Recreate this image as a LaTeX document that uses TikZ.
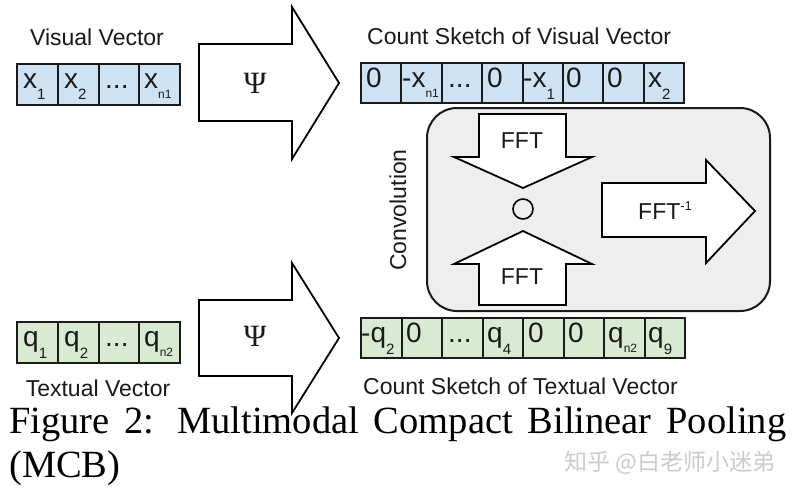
\documentclass[tikz,border=0pt]{standalone}
\usepackage{fontspec}
\setmainfont{Liberation Sans}
\newfontfamily\capfont{Liberation Serif}
\newfontfamily\cjkfont{Noto Sans CJK SC}
\definecolor{vblue}{HTML}{CFE2F3}
\definecolor{tgreen}{HTML}{D9EAD3}
\definecolor{boxgray}{HTML}{EEEEEE}
\definecolor{linec}{HTML}{1A1A1A}
\definecolor{textc}{HTML}{1A1A1A}
\newcommand\lo[1]{\raisebox{-12pt}{\fontsize{15}{15}\selectfont #1}}
\newcommand\loo[1]{\raisebox{-10pt}{\fontsize{12}{12}\selectfont #1}}
\begin{document}
\begin{tikzpicture}[x=1pt,y=-1pt,
  cellv/.style={draw=linec, fill=vblue, line width=2pt},
  cellt/.style={draw=linec, fill=tgreen, line width=2pt},
  blockarrow/.style={draw=black, fill=white, line width=1.8pt, line join=miter},
  lbl/.style={font=\fontsize{23}{23}\selectfont, inner sep=0, text=textc},
  ctxt/.style={font=\fontsize{28}{28}\selectfont, inner sep=0, anchor=base west, text=textc},
  psi/.style={font=\capfont\fontsize{31}{31}\selectfont, inner sep=0, text=textc}]
\useasboundingbox (0,0) rectangle (797,495);
\fill[white] (0,0) rectangle (797,495);

% ---------- Visual vector ----------
\node[lbl, anchor=base] (vlab) at (97,46) {Visual Vector};
\foreach \i in {0,...,3} \draw[cellv] ({17+40.75*\i},64) rectangle ++(40.75,41);
\node[ctxt] (v1) at (23,88) {x\lo{1}};
\node[ctxt] (v2) at (64,88) {x\lo{2}};
\node[ctxt] (v3) at (105,88) {...};
\node[ctxt] (v4) at (144,88) {x\loo{n1}};

% ---------- Textual vector ----------
\node[lbl, anchor=base] (tlab) at (98,396) {Textual Vector};
\foreach \i in {0,...,3} \draw[cellt] ({17+40.75*\i},322) rectangle ++(40.75,41);
\node[ctxt] (t1) at (23,346) {q\lo{1}};
\node[ctxt] (t2) at (64,346) {q\lo{2}};
\node[ctxt] (t3) at (105,346) {...};
\node[ctxt] (t4) at (144,346) {q\loo{n2}};

% ---------- Psi arrows ----------
\draw[blockarrow] (199,44) -- (292,44) -- (292,7) -- (339,83) -- (292,159) -- (292,121) -- (199,121) -- cycle;
\node[psi] (psi1) at (255,83) {Ψ};
\draw[blockarrow] (199,300) -- (292,300) -- (292,263) -- (339,338) -- (292,413) -- (292,376) -- (199,376) -- cycle;
\node[psi] (psi2) at (255,336) {Ψ};

% ---------- Count sketch of visual vector ----------
\node[lbl, anchor=base west] (svlab) at (367,45) {Count Sketch of Visual Vector};
\foreach \i in {0,...,7} \draw[cellv] ({361+40.375*\i},63) rectangle ++(40.375,40);
\node[ctxt] (s1) at (366,87) {0};
\node[ctxt] (s2) at (402,87) {-x\loo{n1}};
\node[ctxt] (s3) at (448,87) {...};
\node[ctxt] (s4) at (487,87) {0};
\node[ctxt] (s5) at (523,87) {-x\lo{1}};
\node[ctxt] (s6) at (566,87) {0};
\node[ctxt] (s7) at (607,87) {0};
\node[ctxt] (s8) at (648,87) {x\lo{2}};

% ---------- Count sketch of textual vector ----------
\node[lbl, anchor=base west] (stlab) at (363,394) {Count Sketch of Textual Vector};
\foreach \i in {0,...,7} \draw[cellt] ({361+40.5*\i},318) rectangle ++(40.5,40);
\node[ctxt] (r1) at (361,342) {-q\lo{2}};
\node[ctxt] (r2) at (406,342) {0};
\node[ctxt] (r3) at (448,342) {...};
\node[ctxt] (r4) at (487,342) {q\lo{4}};
\node[ctxt] (r5) at (528,342) {0};
\node[ctxt] (r6) at (568,342) {0};
\node[ctxt] (r7) at (608,342) {q\loo{n2}};
\node[ctxt] (r8) at (648,342) {q\lo{9}};

% ---------- Convolution box ----------
\draw[draw=linec, fill=boxgray, line width=2pt, rounded corners=30pt] (427,108) rectangle (770,311);
\node[lbl, rotate=90] (conv) at (398,210) {Convolution};

\draw[blockarrow] (479,114) -- (566,114) -- (566,157) -- (592,157) -- (523,188) -- (454,157) -- (479,157) -- cycle;
\node[lbl] (fft1) at (522,141) {FFT};
\draw[blockarrow] (479,305) -- (566,305) -- (566,264) -- (592,264) -- (523,231) -- (454,264) -- (479,264) -- cycle;
\node[lbl] (fft2) at (522,277) {FFT};
\node[circle, draw=black, line width=1.6pt, minimum size=20pt, inner sep=0] (dot) at (523,209) {};

\draw[blockarrow] (602,183) -- (706,183) -- (706,160) -- (755,211) -- (706,263) -- (706,237) -- (602,237) -- cycle;
\node[lbl, anchor=base west] (ifft) at (638,219) {FFT\raisebox{9pt}{\fontsize{13}{13}\selectfont -1}};

% ---------- Caption ----------
\node[anchor=base west, inner sep=0] (cap) at (9,433) {\parbox[t]{777pt}{\capfont\fontsize{38.5}{44}\selectfont Figure 2: Multimodal Compact Bilinear Pooling\linebreak (MCB)}};

% ---------- Watermark ----------
\node[font=\cjkfont\fontsize{23}{23}\selectfont, text=gray!40, inner sep=0] (wm) at (670,463) {知乎 @白老师小迷弟};
\end{tikzpicture}
\end{document}
